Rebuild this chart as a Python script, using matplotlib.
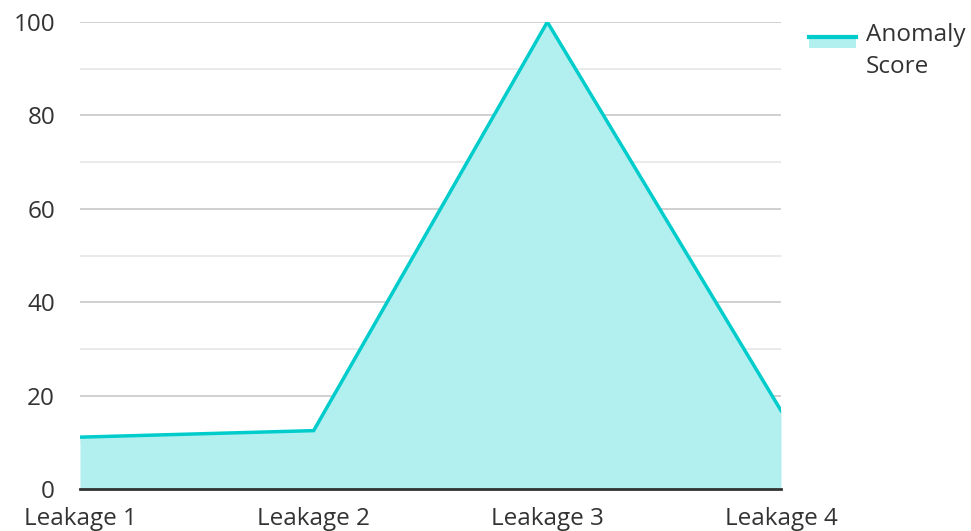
import matplotlib.pyplot as plt
from matplotlib.legend_handler import HandlerBase
from matplotlib.lines import Line2D
from matplotlib.patches import Rectangle

categories = ["Leakage 1", "Leakage 2", "Leakage 3", "Leakage 4"]
scores = [11.1, 12.5, 100, 16.8]
series_name = "Anomaly\nScore"

line_color = "#00cccc"
fill_color = "#b2efef"
text_color = "#333333"

plt.rcParams["font.family"] = ["Open Sans", "DejaVu Sans"]


class AreaHandler(HandlerBase):
    # line on top, filled band under it, sitting next to the first text line
    def create_artists(self, legend, orig_handle, xdescent, ydescent,
                       width, height, fontsize, trans):
        shift = 7
        bottom = -ydescent + height * 0.1 + shift
        top = height * 0.8 + shift
        rect = Rectangle((-xdescent, bottom), width, top - bottom,
                         facecolor=fill_color, edgecolor="none",
                         transform=trans)
        line = Line2D([-xdescent, -xdescent + width], [top, top],
                      color=line_color, lw=3, transform=trans)
        return [rect, line]


fig = plt.figure(figsize=(9.71, 5.31), dpi=100)
ax = fig.add_axes([80 / 971, 42 / 531, 701 / 971, 467 / 531])

x = range(len(categories))
ax.fill_between(x, scores, 0, color=fill_color, lw=0, zorder=2)
ax.plot(x, scores, color=line_color, lw=2.5, zorder=3, solid_joinstyle="miter")

ax.set_xlim(0, len(categories) - 1)
ax.set_ylim(0, 100)
ax.set_xticks(list(x))
ax.set_xticklabels(categories)
ax.set_yticks(range(0, 101, 20))
ax.set_yticks(range(10, 100, 20), minor=True)

ax.grid(axis="y", which="major", color="#c8c8c8", lw=1.2, zorder=1)
ax.grid(axis="y", which="minor", color="#e6e6e6", lw=1.2, zorder=1)
ax.grid(axis="x", visible=False)

for s in ["top", "right", "left"]:
    ax.spines[s].set_visible(False)
ax.spines["bottom"].set_color(text_color)
ax.spines["bottom"].set_linewidth(2)
ax.spines["bottom"].set_zorder(4)

ax.tick_params(axis="both", which="both", length=0, labelsize=17.5,
               labelcolor=text_color)
ax.tick_params(axis="x", pad=13)
ax.tick_params(axis="y", pad=18)

leg = ax.legend([object()], [series_name], handler_map={object: AreaHandler()},
                loc="upper left", bbox_to_anchor=(1.026, 1.018), frameon=False,
                fontsize=17.5, labelcolor=text_color, handlelength=1.95,
                handletextpad=0.4, borderaxespad=0)
leg.get_texts()[0].set_linespacing(1.4)

fig.savefig("out.png", dpi=100)
